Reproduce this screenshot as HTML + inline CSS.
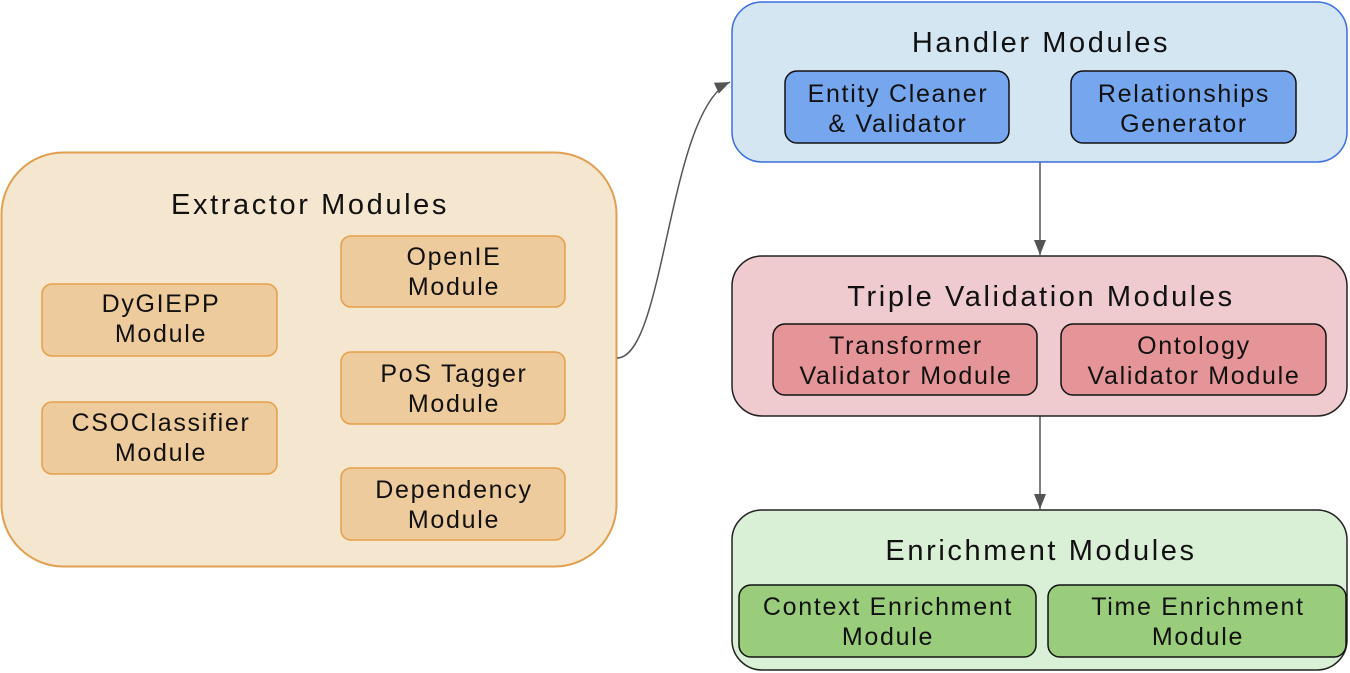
<!DOCTYPE html>
<html><head><meta charset="utf-8"><style>
html,body{margin:0;padding:0;background:#fff;}
svg{display:block;}
text{font-family:"Liberation Sans",sans-serif;fill:#111;text-anchor:middle;}
.t{font-size:29px;letter-spacing:2.6px;}
.s{font-size:25px;letter-spacing:1.7px;}
</style></head><body>
<svg width="1350" height="673" viewBox="0 0 1350 673" xmlns="http://www.w3.org/2000/svg">
<defs><marker id="b" markerWidth="16" markerHeight="16" refX="15" refY="8" orient="auto" markerUnits="userSpaceOnUse"><path d="M0,2 L15,8 L0,14 z" fill="#555"/></marker></defs>
<!-- Extractor -->
<rect x="1.5" y="152.5" width="615" height="414" rx="62" fill="#f5e6cf" stroke="#e0a050" stroke-width="2"/>
<text class="t" x="310" y="214">Extractor Modules</text>
<g fill="#eecb9c" stroke="#e3a04a" stroke-width="1.5">
<rect x="42" y="284" width="235" height="72" rx="10"/>
<rect x="42" y="402" width="235" height="72" rx="10"/>
<rect x="341" y="236" width="224" height="71" rx="10"/>
<rect x="341" y="352" width="224" height="72" rx="10"/>
<rect x="341" y="468" width="224" height="72" rx="10"/>
</g>
<text class="s" x="161" y="312">DyGIEPP</text><text class="s" x="161" y="342">Module</text>
<text class="s" x="161" y="431">CSOClassifier</text><text class="s" x="161" y="461">Module</text>
<text class="s" x="454" y="265">OpenIE</text><text class="s" x="454" y="295">Module</text>
<text class="s" x="454" y="382">PoS Tagger</text><text class="s" x="454" y="412">Module</text>
<text class="s" x="454" y="498">Dependency</text><text class="s" x="454" y="528">Module</text>
<!-- connectors -->
<path d="M617,358 C665,358 668,110 730,82" fill="none" stroke="#555" stroke-width="1.5" marker-end="url(#b)"/>
<line x1="1040" y1="162" x2="1040" y2="255" stroke="#555" stroke-width="1.5" marker-end="url(#b)"/>
<line x1="1040" y1="416" x2="1040" y2="509" stroke="#555" stroke-width="1.5" marker-end="url(#b)"/>
<!-- Handler -->
<rect x="732" y="2" width="615" height="160" rx="30" fill="#d5e6f3" stroke="#3b6fe0" stroke-width="1.5"/>
<text class="t" x="1041" y="52">Handler Modules</text>
<rect x="785" y="71" width="224" height="72" rx="12" fill="#76a6ee" stroke="#111" stroke-width="1.5"/>
<rect x="1071" y="71" width="225" height="72" rx="12" fill="#76a6ee" stroke="#111" stroke-width="1.5"/>
<text class="s" x="898" y="102">Entity Cleaner</text><text class="s" x="898" y="132">&amp; Validator</text>
<text class="s" x="1184" y="102">Relationships</text><text class="s" x="1184" y="132">Generator</text>
<!-- Triple -->
<rect x="732" y="256" width="615" height="160" rx="30" fill="#efcbd0" stroke="#222" stroke-width="1.5"/>
<text class="t" x="1041" y="306">Triple Validation Modules</text>
<rect x="773" y="324" width="264" height="71" rx="12" fill="#e59598" stroke="#111" stroke-width="1.5"/>
<rect x="1061" y="324" width="265" height="71" rx="12" fill="#e59598" stroke="#111" stroke-width="1.5"/>
<text class="s" x="906" y="354">Transformer</text><text class="s" x="906" y="384">Validator Module</text>
<text class="s" x="1194" y="354">Ontology</text><text class="s" x="1194" y="384">Validator Module</text>
<!-- Enrichment -->
<rect x="732" y="510" width="615" height="160" rx="30" fill="#daf0d6" stroke="#222" stroke-width="1.5"/>
<text class="t" x="1041" y="560">Enrichment Modules</text>
<rect x="739" y="585" width="297" height="72" rx="12" fill="#99cd7c" stroke="#111" stroke-width="1.5"/>
<rect x="1048" y="585" width="298" height="72" rx="12" fill="#99cd7c" stroke="#111" stroke-width="1.5"/>
<text class="s" x="888" y="615">Context Enrichment</text><text class="s" x="888" y="645">Module</text>
<text class="s" x="1198" y="615">Time Enrichment</text><text class="s" x="1198" y="645">Module</text>
</svg>
</body></html>
